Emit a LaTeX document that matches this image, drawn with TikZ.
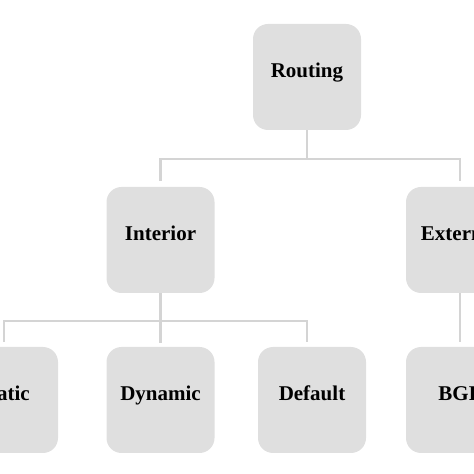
\documentclass[tikz,border=0pt]{standalone}
\usepackage{fontspec}
\setmainfont{Liberation Serif}
\usepackage{tikz}

\begin{document}
\begin{tikzpicture}[x=1pt,y=1pt,
  box/.style={fill=gray!25, rounded corners=15pt, minimum width=108pt,
    minimum height=106pt, inner sep=0pt, text height=0.7em, text depth=0.5em,
    font=\fontsize{21}{25}\selectfont\bfseries},
  link/.style={draw=gray!34, line width=2.6pt}]
\useasboundingbox (0,0) rectangle (474,474);
\clip (0,0) rectangle (474,474);
  % top level
  \node[box] (routing) at (307,397) {Routing};
  % second level
  \node[box] (interior) at (160.5,234) {Interior};
  \node[box] (external) at (460,234) {External};
  \coordinate (rbar) at (307,315);
  \draw[link] (routing.south) -- (rbar);
  \draw[link, shorten <=6pt, shorten >=6pt] (interior.north) |- (rbar) -| (external.north);
  % third level
  \node[box] (static) at (4,74) {Static};
  \node[box] (dynamic) at (160.5,74) {Dynamic};
  \node[box] (default) at (312,74) {Default};
  \node[box] (bgp) at (460,74) {BGP};
  \coordinate (ibar) at (160.5,153);
  \draw[link, shorten >=4pt] (interior.south) -- (dynamic.north);
  \draw[link, shorten <=5pt, shorten >=5pt] (static.north) |- (ibar) -| ([xshift=-5pt]default.north);
  \draw[link, shorten >=5pt] (external.south) -- (bgp.north);
\end{tikzpicture}
\end{document}
